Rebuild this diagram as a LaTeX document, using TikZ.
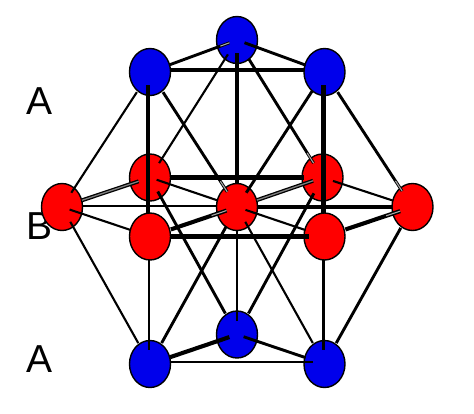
\documentclass[tikz,border=0pt]{standalone}
\usepackage{fontspec}
\setmainfont{Liberation Sans}
\usetikzlibrary{shapes.geometric}
\tikzset{
  atom/.style={ellipse, draw=black, line width=1.4pt, minimum width=41pt, minimum height=47pt, inner sep=0pt},
  atomA/.style={atom, fill=blue!92!black},
  atomB/.style={atom, fill=red},
  layerlabel/.style={inner sep=0pt, font=\fontsize{39}{47}\selectfont},
  bondthin/.style={line width=2.1pt},
  bondmid/.style={line width=2.9pt},
  bondthick/.style={line width=4.1pt},
  bonddouble/.style={line width=1.3pt, double=gray, double distance=1.3pt},
  bondgray/.style={line width=1.1pt, draw=gray!70},
}

\begin{document}
\begin{tikzpicture}[x=1pt, y=-1pt, line cap=butt]

  %% labels
  \node[layerlabel] (labelA1) at (40,101) {A};
  \node[layerlabel] (labelB) at (39.5,226) {B};
  \node[layerlabel] (labelA2) at (40,359) {A};

  %% atoms
  \node[atomA] (t) at (237,40) {};
  \node[atomA] (l) at (150,72) {};
  \node[atomA] (r) at (324.5,72) {};
  \node[atomB] (rl) at (150,177.5) {};
  \node[atomB] (rr) at (322.5,177.5) {};
  \node[atomB] (w) at (62,207) {};
  \node[atomB] (c) at (237,207) {};
  \node[atomB] (e) at (412.5,207) {};
  \node[atomB] (fl) at (150,236.5) {};
  \node[atomB] (fr) at (324.5,236.5) {};
  \node[atomA] (b) at (237,334.5) {};
  \node[atomA] (bl) at (150,364) {};
  \node[atomA] (br) at (324.5,364) {};

  %% top layer
  \draw[bondmid, shorten <=8pt, shorten >=21pt] (t.center) -- (l.center);
  \draw[bondgray, shorten <=8pt, shorten >=75pt] (t.center) -- (l.center);
  \draw[bondmid, shorten <=8pt, shorten >=20pt] (t.center) -- (r.center);
  \draw[bondthick, shorten <=21pt, shorten >=21pt] ([yshift=2pt]l.center) -- ([yshift=2pt]r.center);

  %% top layer to middle layer
  \draw[bondthick, shorten <=13pt, shorten >=24pt] (t.center) -- (c.center);
  \draw[bondthick, shorten <=13pt, shorten >=24pt] ([xshift=-2pt]l.center) -- ([xshift=-2pt]fl.center);
  \draw[bondthick, shorten <=13pt, shorten >=24pt] ([xshift=-1pt]r.center) -- ([xshift=-1pt]fr.center);
  \draw[bondthin, shorten <=24pt, shorten >=17pt] (l.center) -- (w.center);
  \draw[bondmid, shorten <=24pt, shorten >=18pt] (l.center) -- (c.center);
  \draw[bondgray, shorten <=130pt, shorten >=18pt] (l.center) -- (c.center);
  \draw[bondmid, shorten <=22pt, shorten >=17pt] (r.center) -- (c.center);
  \draw[bondmid, shorten <=24pt, shorten >=19pt] (r.center) -- (e.center);
  \draw[bondgray, shorten <=130pt, shorten >=19pt] (r.center) -- (e.center);
  \draw[bondthin, shorten <=17pt, shorten >=17pt] (t.center) -- (rl.center);
  \draw[bondmid, shorten <=22pt, shorten >=17pt] (t.center) -- (rr.center);
  \draw[bondgray, shorten <=133pt, shorten >=17pt] (t.center) -- (rr.center);

  %% middle layer
  \draw[bondthick, shorten <=21pt, shorten >=19pt] (rl.center) -- (rr.center);
  \draw[bonddouble, shorten <=21pt, shorten >=12pt] (w.center) -- (rl.center);
  \draw[bonddouble, shorten <=21pt, shorten >=10pt] (c.center) -- (rr.center);
  \draw[bondthin, shorten <=7pt, shorten >=21pt] (rl.center) -- (c.center);
  \draw[bondthin, shorten <=11pt, shorten >=21pt] (rr.center) -- (e.center);
  \draw[bondthin, shorten <=21pt, shorten >=21pt] ([yshift=1pt]w.center) -- ([yshift=1pt]c.center);
  \draw[bondthick, shorten <=21pt, shorten >=21pt] (c.center) -- (e.center);
  \draw[bondthin, shorten <=8pt, shorten >=21pt] (w.center) -- (fl.center);
  \draw[bondthick, shorten <=11pt, shorten >=22pt] (c.center) -- (fl.center);
  \draw[bondgray, shorten <=11pt, shorten >=65pt] (c.center) -- (fl.center);
  \draw[bondthin, shorten <=9pt, shorten >=20pt] (c.center) -- (fr.center);
  \draw[bondthick, shorten <=13pt, shorten >=22pt] (e.center) -- (fr.center);
  \draw[bondgray, shorten <=13pt, shorten >=65pt] (e.center) -- (fr.center);
  \draw[bondthick, shorten <=21pt, shorten >=16pt] (fl.center) -- (fr.center);

  %% middle layer to bottom layer
  \draw[bondmid, shorten <=16pt, shorten >=24pt] (rl.center) -- (b.center);
  \draw[bondmid, shorten <=18pt, shorten >=24pt] (rr.center) -- (b.center);
  \draw[bondthin, shorten <=17pt, shorten >=24pt] (w.center) -- (bl.center);
  \draw[bondmid, shorten <=24pt, shorten >=24pt] (e.center) -- (br.center);
  \draw[bondmid, shorten <=22pt, shorten >=24pt] (c.center) -- (bl.center);
  \draw[bondthin, shorten <=17pt, shorten >=24pt] (c.center) -- (br.center);
  \draw[bondthin, shorten <=24pt, shorten >=14pt] (c.center) -- (b.center);
  \draw[bondthin, shorten <=23pt, shorten >=14pt] ([xshift=-1pt]fl.center) -- ([xshift=-1pt]bl.center);
  \draw[bondthin, shorten <=23pt, shorten >=14pt] ([xshift=-1pt]fr.center) -- ([xshift=-1pt]br.center);

  %% bottom layer
  \draw[bondthick, shorten <=21pt, shorten >=8pt] (bl.center) -- (b.center);
  \draw[bondmid, shorten <=7pt, shorten >=20pt] (b.center) -- (br.center);
  \draw[bondthin, shorten <=21pt, shorten >=12pt] ([yshift=2pt]bl.center) -- ([yshift=2pt]br.center);

  \pgfresetboundingbox
  \path[use as bounding box] (0,0) rectangle (474,413);
\end{tikzpicture}
\end{document}
